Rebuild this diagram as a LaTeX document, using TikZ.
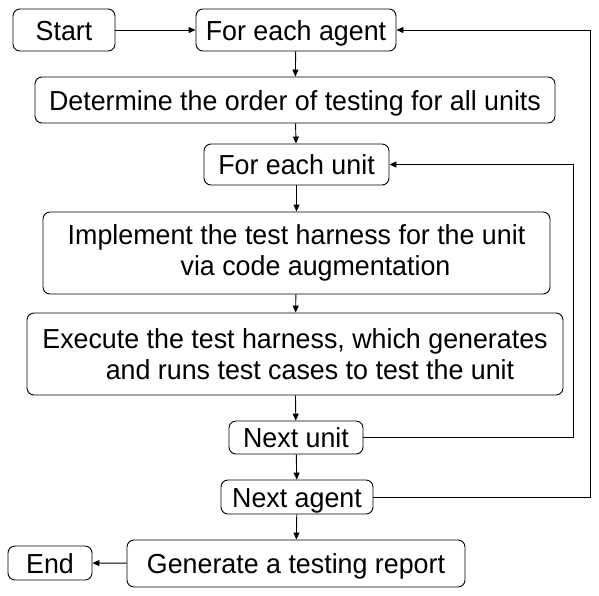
\documentclass[tikz,border=0pt]{standalone}
\usepackage{fontspec}
\setmainfont[FakeStretch=0.975]{Liberation Sans}
\usetikzlibrary{arrows.meta}
\begin{document}
\begin{tikzpicture}[x=1pt,y=-1pt,
  box/.style={draw,line width=0.9pt,rounded corners=7pt,inner sep=0pt,align=center,
    font=\fontsize{27.5}{31}\selectfont},
  one/.style={box,text height=20pt,text depth=0pt},
  arr/.style={line width=0.9pt,-{Triangle[length=7pt,width=6pt]}}]
\useasboundingbox (0,0) rectangle (599,595);
\node[one,minimum width=102pt,minimum height=42pt] (start) at (64,30) {Start};
\node[one,minimum width=200pt,minimum height=42pt] (agent) at (296,30) {For each agent};
\node[one,minimum width=520pt,minimum height=46pt] (order) at (295,100) {Determine the order of testing for all units};
\node[one,minimum width=185pt,minimum height=41pt] (unit) at (296.5,164.5) {For each unit};
\node[box,minimum width=507pt,minimum height=82pt] (impl) at (296.5,253) {Implement the test harness for the unit\\\hspace*{38pt}via code augmentation};
\node[box,minimum width=536pt,minimum height=82pt] (exec) at (295,354) {Execute the test harness, which generates\\\hspace*{30pt}and runs test cases to test the unit};
\node[one,minimum width=134pt,minimum height=33pt] (nunit) at (296,437.5) {Next unit};
\node[one,minimum width=152pt,minimum height=34pt] (nagent) at (297,497) {Next agent};
\node[one,minimum width=338pt,minimum height=47pt] (report) at (296,563.5) {Generate a testing report};
\node[one,minimum width=84pt,minimum height=34pt] (end) at (50,563) {End};
\draw[arr] (start) -- (agent);
\draw[arr] (agent) -- (order);
\draw[arr] (order) -- (unit);
\draw[arr] (unit) -- (impl);
\draw[arr] (impl) -- (exec);
\draw[arr] (exec) -- (nunit);
\draw[arr] (nunit) -- (nagent);
\draw[arr] (nagent) -- (report);
\draw[arr] (report) -- (end);
\draw[arr] (nunit.east) -- ++(210,0) |- (unit.east);
\draw[arr] (nagent.east) -- ++(217,0) |- (agent.east);
\end{tikzpicture}
\end{document}
